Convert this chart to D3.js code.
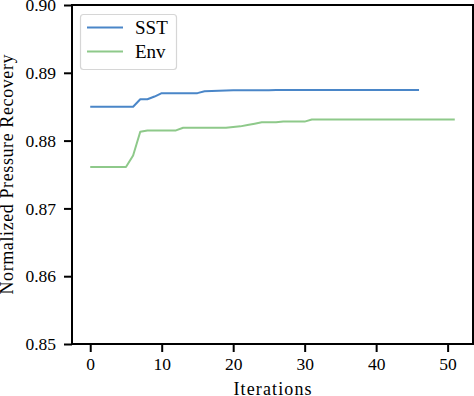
<!DOCTYPE html>
<html>
<head>
<meta charset="utf-8">
<script src="https://cdn.jsdelivr.net/npm/d3@7"></script>
<style>
  body { margin: 0; background: #fff; }
</style>
</head>
<body>
<div id="chart"></div>
<script>
// values
const sstIterations = d3.range(0, 47);
const sstValues = [
  0.8850, 0.8850, 0.8850, 0.8850, 0.8850, 0.8850, 0.8850, 0.8861, 0.8861, 0.8865,
  0.8870, 0.8870, 0.8870, 0.8870, 0.8870, 0.8870, 0.88728, 0.88733, 0.88737, 0.8874,
  0.88741, 0.88742, 0.88743, 0.88743, 0.88744, 0.88744, 0.88745, 0.88745, 0.88745, 0.88745,
  0.88745, 0.88745, 0.88745, 0.88745, 0.88745, 0.88745, 0.88745, 0.88745, 0.88745, 0.88745,
  0.88745, 0.88745, 0.88745, 0.88745, 0.88745, 0.88745, 0.88745
];
const envIterations = d3.range(0, 52);
const envValues = [
  0.8761, 0.8761, 0.8761, 0.8761, 0.8761, 0.8761, 0.8778, 0.8813, 0.8815, 0.8815,
  0.8815, 0.8815, 0.8815, 0.8819, 0.8819, 0.8819, 0.8819, 0.8819, 0.8819, 0.8819,
  0.8820, 0.8821, 0.8823, 0.8825, 0.8827, 0.8827, 0.8827, 0.8828, 0.8828, 0.8828,
  0.8828, 0.8831, 0.8831, 0.8831, 0.8831, 0.8831, 0.8831, 0.8831, 0.8831, 0.8831,
  0.8831, 0.8831, 0.8831, 0.8831, 0.8831, 0.8831, 0.8831, 0.8831, 0.8831, 0.8831,
  0.8831, 0.8831
];
const xTicks = [0, 10, 20, 30, 40, 50];
const yTicks = [0.85, 0.86, 0.87, 0.88, 0.89, 0.90];
const seriesNames = ["SST", "Env"];
const seriesColors = ["#4a86c8", "#8ec98a"];

const serif = "'Liberation Serif', 'DejaVu Serif', serif";
const width = 474, height = 396;
const margin = {top: 5, right: 1, bottom: 52, left: 72};

const svg = d3.select("#chart").append("svg")
  .attr("width", width)
  .attr("height", height);

const x = d3.scaleLinear().domain([-2.55, 53.55]).range([margin.left, width - margin.right]);
const y = d3.scaleLinear().domain([0.85, 0.90]).range([height - margin.bottom, margin.top]);

const line = d3.line().x(d => x(d[0])).y(d => y(d[1]));

const series = [
  {name: seriesNames[0], color: seriesColors[0], points: sstIterations.map((it, i) => [it, sstValues[i]])},
  {name: seriesNames[1], color: seriesColors[1], points: envIterations.map((it, i) => [it, envValues[i]])}
];

svg.selectAll(".series").data(series).enter().append("path")
  .attr("class", "series")
  .attr("d", d => line(d.points))
  .attr("fill", "none")
  .attr("stroke", d => d.color)
  .attr("stroke-width", 2)
  .attr("stroke-linejoin", "round");

// axes
const xAxis = svg.append("g")
  .attr("transform", `translate(0,${height - margin.bottom})`)
  .call(d3.axisBottom(x).tickValues(xTicks).tickSize(8).tickPadding(6).tickFormat(d3.format("d")));
const yAxis = svg.append("g")
  .attr("transform", `translate(${margin.left},0)`)
  .call(d3.axisLeft(y).tickValues(yTicks).tickSize(8).tickPadding(8).tickFormat(d3.format(".2f")));

[xAxis, yAxis].forEach(a => {
  a.attr("font-family", null).attr("font-size", null);
  a.select(".domain").remove();
  a.selectAll(".tick line").attr("stroke", "#000").attr("stroke-width", 2);
  a.selectAll(".tick text")
    .attr("fill", "#000")
    .style("font-family", serif)
    .style("font-size", "17.5px");
});

// frame
svg.append("rect")
  .attr("x", margin.left)
  .attr("y", margin.top)
  .attr("width", width - margin.right - margin.left)
  .attr("height", height - margin.bottom - margin.top)
  .attr("fill", "none")
  .attr("stroke", "#000")
  .attr("stroke-width", 2);

// axis labels
svg.append("text")
  .attr("x", (margin.left + width - margin.right) / 2)
  .attr("y", 395)
  .attr("text-anchor", "middle")
  .attr("textLength", 78)
  .style("font-family", serif)
  .style("font-size", "18px")
  .text("Iterations");

svg.append("text")
  .attr("transform", `translate(13,${(margin.top + height - margin.bottom) / 2}) rotate(-90)`)
  .attr("text-anchor", "middle")
  .attr("textLength", 240)
  .style("font-family", serif)
  .style("font-size", "18px")
  .text("Normalized Pressure Recovery");

// legend
const legend = svg.append("g");
legend.append("rect")
  .attr("x", 80.5).attr("y", 14.5)
  .attr("width", 96).attr("height", 55)
  .attr("rx", 3)
  .attr("fill", "#fff")
  .attr("fill-opacity", 0.8)
  .attr("stroke", "#d6d6d6")
  .attr("stroke-width", 1.2);

const items = legend.selectAll(".item").data(series).enter().append("g")
  .attr("transform", (d, i) => `translate(0,${27.5 + i * 24})`);
items.append("line")
  .attr("x1", 87).attr("x2", 123)
  .attr("stroke", d => d.color)
  .attr("stroke-width", 2);
items.append("text")
  .attr("x", 135)
  .attr("dy", "0.35em")
  .style("font-family", serif)
  .style("font-size", "19px")
  .text(d => d.name);
</script>
</body>
</html>
